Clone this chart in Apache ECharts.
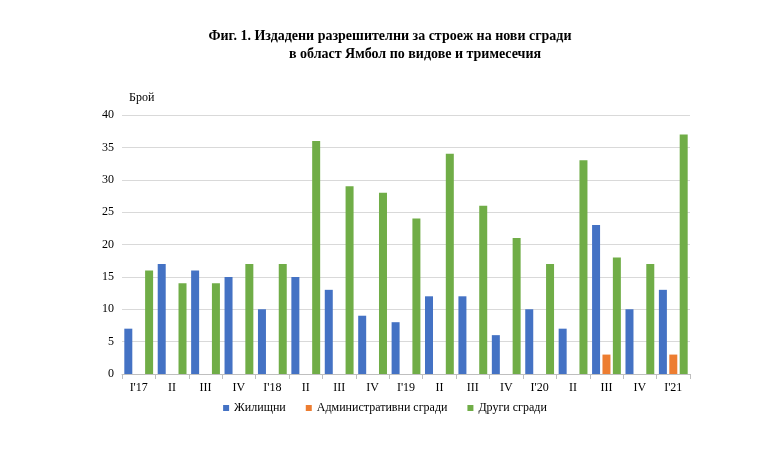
<!DOCTYPE html>
<html>
<head>
<meta charset="utf-8">
<script src="https://cdn.jsdelivr.net/npm/echarts@6/dist/echarts.min.js"></script>
<style>html,body{margin:0;padding:0;background:#fff}#chart{width:770px;height:451px}</style>
</head>
<body>
<div id="chart"></div>
<script>
var quarters = ["I'17", 'II', 'III', 'IV', "I'18", 'II', 'III', 'IV', "I'19", 'II', 'III', 'IV', "I'20", 'II', 'III', 'IV', "I'21"];
var residential = [7, 17, 16, 15, 10, 15, 13, 9, 8, 12, 12, 6, 10, 7, 23, 10, 13];
var administrative = [null, null, null, null, null, null, null, null, null, null, null, null, null, null, 3, null, 3];
var other = [16, 14, 14, 17, 17, 36, 29, 28, 24, 34, 26, 21, 17, 33, 18, 17, 37];

var font = '"Liberation Serif", "DejaVu Serif", serif';
var chart = echarts.init(document.getElementById('chart'));
chart.setOption({
    backgroundColor: '#fff',
    animation: false,
    textStyle: { fontFamily: font, color: '#000' },
    title: [
        { text: 'Фиг. 1. Издадени разрешителни за строеж на нови сгради', left: 385, top: 24, textAlign: 'center',
          textStyle: { fontFamily: font, fontSize: 14, fontWeight: 'bold', color: '#000' } },
        { text: 'в област Ямбол по видове и тримесечия', left: 410, top: 42, textAlign: 'center',
          textStyle: { fontFamily: font, fontSize: 14, fontWeight: 'bold', color: '#000' } },
        { text: 'Брой', left: 124, top: 87, textStyle: { fontFamily: font, fontSize: 12, fontWeight: 'normal', color: '#000' } }
    ],
    grid: { left: 122, right: 80, top: 115, bottom: 77 },
    legend: {
        bottom: 32, left: 'center', itemWidth: 6, itemHeight: 6, icon: 'rect', itemGap: 20,
        textStyle: { fontFamily: font, fontSize: 12, color: '#000' },
        data: ['Жилищни', 'Административни сгради', 'Други сгради']
    },
    xAxis: {
        type: 'category', data: quarters,
        axisLine: { lineStyle: { color: '#bfbfbf' } },
        axisTick: { show: true, alignWithLabel: false, lineStyle: { color: '#bfbfbf' } },
        axisLabel: { color: '#000', fontSize: 12, fontFamily: font, margin: 8 }
    },
    yAxis: {
        type: 'value', min: 0, max: 40, interval: 5,
        axisLine: { show: false }, axisTick: { show: false },
        axisLabel: { color: '#000', fontSize: 12, fontFamily: font },
        splitLine: { lineStyle: { color: '#d9d9d9' } }
    },
    series: [
        { name: 'Жилищни', type: 'bar', data: residential, barWidth: 8, barGap: '30%', itemStyle: { color: '#4472c4' } },
        { name: 'Административни сгради', type: 'bar', data: administrative, barWidth: 8, barGap: '30%', itemStyle: { color: '#ed7d31' } },
        { name: 'Други сгради', type: 'bar', data: other, barWidth: 8, barGap: '30%', itemStyle: { color: '#70ad47' } }
    ]
});
</script>
</body>
</html>
